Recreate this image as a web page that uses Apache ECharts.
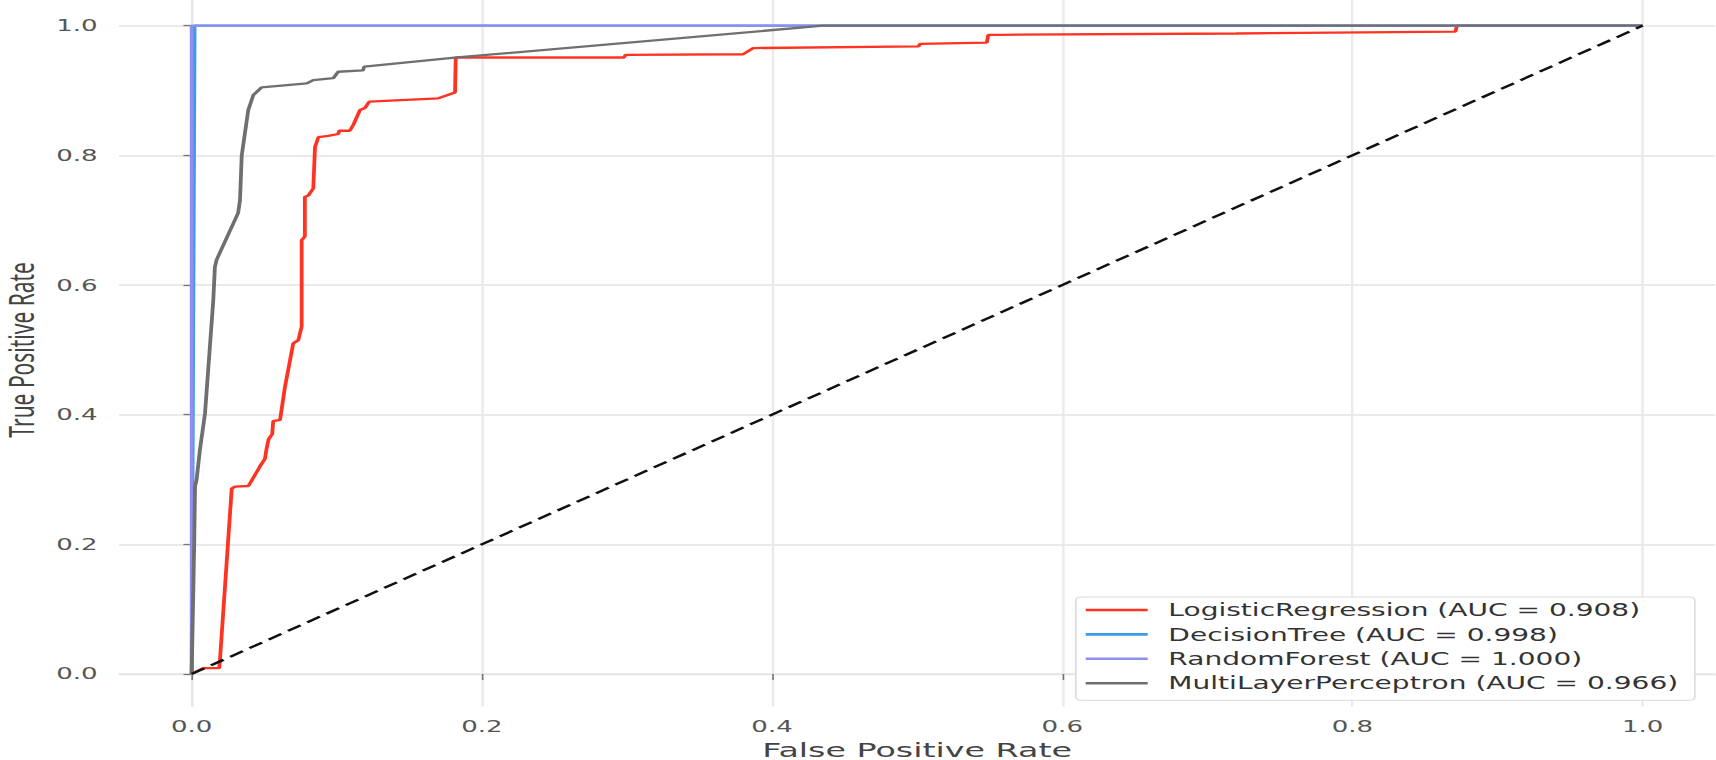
<!DOCTYPE html>
<html>
<head>
<meta charset="utf-8">
<script src="https://cdn.jsdelivr.net/npm/echarts@6/dist/echarts.min.js"></script>
<style>
  html, body { margin: 0; padding: 0; background: #fff; overflow: hidden; width: 1716px; height: 760px; }
  #chart { width: 1040px; height: 760px; transform: scaleX(1.65); transform-origin: 0 0; }
</style>
</head>
<body>
<div id="chart"></div>
<script>
// ---- data ----
const xTicks = [0, 0.2, 0.4, 0.6, 0.8, 1.0];
const yTicks = [0, 0.2, 0.4, 0.6, 0.8, 1.0];

const seriesNames = [
  'LogisticRegression (AUC = 0.908)',
  'DecisionTree (AUC = 0.998)',
  'RandomForest (AUC = 1.000)',
  'MultiLayerPerceptron (AUC = 0.966)'
];

const lrFpr = [0, 0.008, 0.019, 0.0195, 0.0276, 0.0298, 0.039, 0.0402, 0.047, 0.0505, 0.0515, 0.053, 0.0555, 0.0562, 0.0609, 0.0643, 0.070, 0.0735, 0.0758, 0.0758, 0.078, 0.078, 0.0804, 0.0838, 0.085, 0.0873, 0.0942, 0.101, 0.1017, 0.109, 0.1114, 0.116, 0.1194, 0.1224, 0.170, 0.1815, 0.182, 0.298, 0.299, 0.380, 0.387, 0.501, 0.502, 0.548, 0.549, 0.557, 0.720, 0.871, 0.872, 1.0];
const lrTpr = [0, 0.009, 0.009, 0.022, 0.286, 0.289, 0.290, 0.294, 0.320, 0.332, 0.346, 0.362, 0.370, 0.390, 0.392, 0.443, 0.510, 0.515, 0.536, 0.669, 0.675, 0.736, 0.738, 0.749, 0.813, 0.828, 0.830, 0.833, 0.838, 0.838, 0.847, 0.870, 0.873, 0.883, 0.888, 0.897, 0.951, 0.951, 0.955, 0.956, 0.9655, 0.968, 0.972, 0.974, 0.986, 0.986, 0.988, 0.991, 1.0, 1.0];

const dtFpr = [0, 0.002, 1.0];
const dtTpr = [0, 1.0, 1.0];

const rfFpr = [0, 0, 1.0];
const rfTpr = [0, 1.0, 1.0];

const mlpFpr = [0, 0.0018, 0.0023, 0.0034, 0.0057, 0.0092, 0.0149, 0.016, 0.0172, 0.032, 0.0333, 0.0345, 0.039, 0.0425, 0.0482, 0.0793, 0.0838, 0.0976, 0.101, 0.118, 0.119, 0.183, 0.435, 1.0];
const mlpTpr = [0, 0.207, 0.289, 0.300, 0.346, 0.402, 0.577, 0.628, 0.639, 0.711, 0.731, 0.800, 0.870, 0.893, 0.905, 0.911, 0.916, 0.919, 0.929, 0.931, 0.937, 0.951, 1.0, 1.0];

const chanceFpr = [0, 1];
const chanceTpr = [0, 1];

const colors = ['#ff3322', '#3d9ae6', '#8e8ef0', '#6f6f6f'];

function pairs(xs, ys) { return xs.map((x, i) => [x, ys[i]]); }

const chart = echarts.init(document.getElementById('chart'), null, { renderer: 'svg', width: 1040, height: 760 });

const tickFont = { fontFamily: 'DejaVu Sans', fontSize: 15.8, color: '#555' };

const lineSeries = [
  [lrFpr, lrTpr], [dtFpr, dtTpr], [rfFpr, rfTpr], [mlpFpr, mlpTpr]
].map((d, i) => ({
  name: seriesNames[i],
  type: 'line',
  data: pairs(d[0], d[1]),
  showSymbol: false,
  symbol: 'none',
  smooth: false,
  lineStyle: { color: colors[i], width: 2.3 },
  itemStyle: { color: colors[i] },
  emphasis: { disabled: true },
  silent: true
}));

lineSeries.push({
  name: 'chance',
  type: 'line',
  data: pairs(chanceFpr, chanceTpr),
  showSymbol: false,
  symbol: 'none',
  lineStyle: { color: '#111', width: 2.2, type: [9.5, 5] },
  emphasis: { disabled: true },
  silent: true
});

chart.setOption({
  animation: false,
  backgroundColor: '#fff',
  grid: { left: 72.2, right: 0.5, top: -6.7, bottom: 53.6, containLabel: false, outerBoundsMode: 'none' },
  xAxis: {
    type: 'value', min: -0.05, max: 1.05,
    name: 'False Positive Rate', nameLocation: 'middle', nameGap: 31,
    nameTextStyle: { fontFamily: 'DejaVu Sans', fontSize: 20.2, color: '#444' },
    axisLine: { show: true, lineStyle: { color: '#e6e6e6', width: 1.3 } },
    axisTick: { show: true, customValues: xTicks, length: 6, lineStyle: { color: '#777', width: 1 } },
    axisLabel: { customValues: xTicks, margin: 12, formatter: v => v.toFixed(1), ...tickFont },
    splitLine: { show: true, lineStyle: { color: '#e9e9ee', width: 1.4 } }
  },
  yAxis: {
    type: 'value', min: -0.05, max: 1.05,
    name: 'True Positive Rate', nameLocation: 'middle', nameGap: 44, nameRotate: 90,
    nameTextStyle: { fontFamily: 'Noto Sans', fontSize: 21, lineHeight: 22, color: '#444' },
    axisLine: { show: true, lineStyle: { color: '#e6e6e6', width: 1.3 } },
    axisTick: { show: true, customValues: yTicks, length: 5, lineStyle: { color: '#777', width: 1.3 } },
    axisLabel: { customValues: yTicks, margin: 13, formatter: v => v.toFixed(1), ...tickFont },
    splitLine: { show: true, lineStyle: { color: '#e9e9ee', width: 2 } }
  },
  legend: {
    data: seriesNames.map(n => ({ name: n, icon: 'rect' })),
    orient: 'vertical',
    left: 652, top: 597,
    padding: [3, 10, 7, 6],
    itemWidth: 37.6, itemHeight: 2.6, itemGap: 4.4,
    backgroundColor: '#fff',
    borderColor: '#dcdcdc', borderWidth: 1, borderRadius: 3,
    textStyle: { fontFamily: 'DejaVu Sans', fontSize: 17, color: '#333', lineHeight: 20, padding: [0, 0, 0, 7.5] },
    selectedMode: false
  },
  series: lineSeries
});
</script>
</body>
</html>
